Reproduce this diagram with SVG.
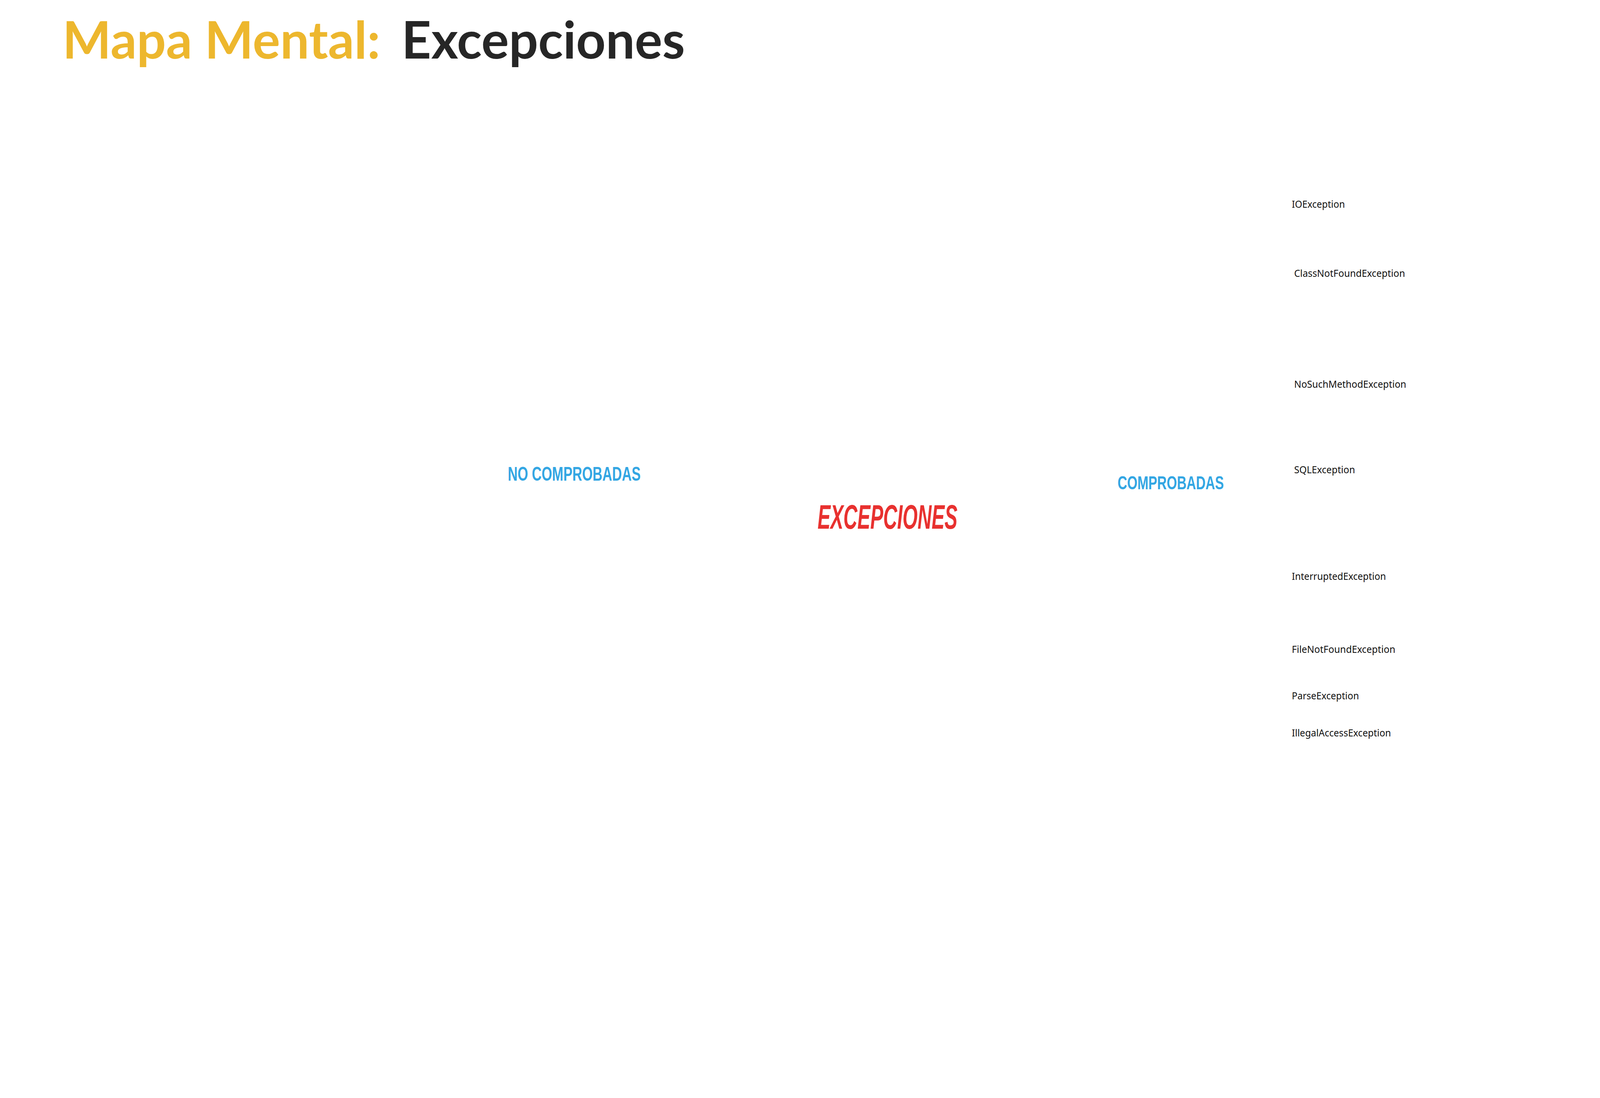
<svg xmlns="http://www.w3.org/2000/svg" width="5000" height="2812" viewBox="0 0 5000 2812">
<style>
.title{font-family:"Lato","Open Sans",sans-serif;font-weight:700;font-size:132px}
.cat{font-family:"Liberation Sans","DejaVu Sans",sans-serif;font-weight:700;fill:#33A6E3}
.root{font-family:"Liberation Sans","DejaVu Sans",sans-serif;font-weight:700;font-style:italic;font-size:88px;fill:#E8312F}
.leaf{font-family:"Noto Sans","Open Sans",sans-serif;font-size:25px;fill:#111111}
</style>
<rect width="5000" height="2812" fill="#FFFFFF"/>
<g id="title">
<text class="title" x="160" y="150"><tspan fill="#EDB72E">Mapa Mental:</tspan><tspan fill="#262626" x="1028">Excepciones</tspan></text>
</g>
<g id="connectors"></g>
<g id="node-excepciones">
<text class="root" x="2093" y="1354" textLength="358" lengthAdjust="spacingAndGlyphs">EXCEPCIONES</text>
</g>
<g id="node-no-comprobadas">
<text class="cat" x="1300" y="1231" font-size="50" textLength="340" lengthAdjust="spacingAndGlyphs">NO COMPROBADAS</text>
</g>
<g id="node-comprobadas">
<text class="cat" x="2861" y="1253" font-size="49" textLength="272" lengthAdjust="spacingAndGlyphs">COMPROBADAS</text>
</g>
<g id="node-ioexception"><text class="leaf" x="3307" y="532" textLength="136" lengthAdjust="spacingAndGlyphs">IOException</text></g>
<g id="node-classnotfound"><text class="leaf" x="3313" y="709" textLength="284" lengthAdjust="spacingAndGlyphs">ClassNotFoundException</text></g>
<g id="node-nosuchmethod"><text class="leaf" x="3313" y="993" textLength="287" lengthAdjust="spacingAndGlyphs">NoSuchMethodException</text></g>
<g id="node-sqlexception"><text class="leaf" x="3313" y="1212" textLength="156" lengthAdjust="spacingAndGlyphs">SQLException</text></g>
<g id="node-interrupted"><text class="leaf" x="3307" y="1485" textLength="241" lengthAdjust="spacingAndGlyphs">InterruptedException</text></g>
<g id="node-filenotfound"><text class="leaf" x="3307" y="1672" textLength="265" lengthAdjust="spacingAndGlyphs">FileNotFoundException</text></g>
<g id="node-parse"><text class="leaf" x="3307" y="1791" textLength="172" lengthAdjust="spacingAndGlyphs">ParseException</text></g>
<g id="node-illegalaccess"><text class="leaf" x="3307" y="1886" textLength="254" lengthAdjust="spacingAndGlyphs">IllegalAccessException</text></g>
</svg>
